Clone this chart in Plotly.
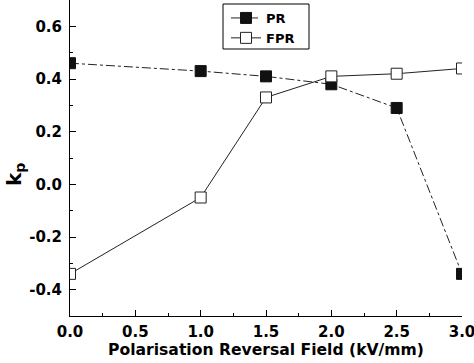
import plotly.graph_objects as go

field = [0.0, 1.0, 1.5, 2.0, 2.5, 3.0]
pr = [0.46, 0.43, 0.41, 0.38, 0.29, -0.34]
fpr = [-0.34, -0.05, 0.33, 0.41, 0.42, 0.44]

x_ticks = [0, 0.5, 1.0, 1.5, 2.0, 2.5, 3.0]
x_ticktext = ["0.0", "0.5", "1.0", "1.5", "2.0", "2.5", "3.0"]
y_ticks = [-0.4, -0.2, 0.0, 0.2, 0.4, 0.6]
y_ticktext = ["-0.4", "-0.2", "0.0", "0.2", "0.4", "0.6"]

font_family = "DejaVu Sans, Arial, sans-serif"

fig = go.Figure()
fig.add_trace(go.Scatter(
    x=field, y=pr, name="<b>PR</b>", mode="lines+markers",
    line=dict(color="#222222", width=1, dash="dashdot"),
    marker=dict(symbol="square", size=11, color="#111111",
                line=dict(color="#111111", width=1)),
))
fig.add_trace(go.Scatter(
    x=field, y=fpr, name="<b>FPR</b>", mode="lines+markers",
    line=dict(color="#222222", width=1),
    marker=dict(symbol="square", size=11, color="white",
                line=dict(color="#222222", width=1)),
))

axis_common = dict(
    showline=True, linecolor="black", linewidth=1, mirror=False,
    showgrid=False, zeroline=False, automargin=False,
    ticks="inside", ticklen=6, tickwidth=1, tickcolor="black",
    ticklabeloverflow="allow",
    tickfont=dict(family=font_family, size=15, color="black", weight="bold"),
)

fig.update_layout(
    width=474, height=363,
    margin=dict(l=70, r=12, t=0, b=47),
    paper_bgcolor="white", plot_bgcolor="white",
    font=dict(family=font_family, color="black"),
    showlegend=True,
    legend=dict(
        x=(226 - 70) / 392, y=(316 - 3) / 316, xanchor="left", yanchor="top",
        borderwidth=0, bgcolor="rgba(0,0,0,0)",
        font=dict(family=font_family, size=13, color="black"),
        tracegroupgap=0, itemwidth=30,
    ),
    shapes=[dict(
        type="rect", xref="paper", yref="paper",
        x0=(223 - 70) / 392, x1=(309 - 70) / 392,
        y0=(316 - 49) / 316, y1=(316 - 4) / 316,
        line=dict(color="black", width=1), fillcolor="rgba(0,0,0,0)",
        layer="above",
    )],
    xaxis=dict(
        range=[0, 3.0], tickvals=x_ticks, ticktext=x_ticktext,
        minor=dict(ticks="inside", ticklen=3, tickcolor="black", dtick=0.25, tick0=0),
        title=dict(text="<b>Polarisation Reversal Field (kV/mm)</b>",
                   font=dict(family=font_family, size=15.6, color="black"), standoff=1),
        ticklabelstandoff=2,
        **axis_common,
    ),
    yaxis=dict(
        range=[-0.5, 0.7], tickvals=y_ticks, ticktext=y_ticktext,
        minor=dict(ticks="inside", ticklen=3, tickcolor="black", dtick=0.1, tick0=0),
        ticklabelstandoff=4,
        **axis_common,
    ),
    annotations=[dict(
        text="<b>k<sub>p</sub></b>", xref="paper", yref="paper",
        x=-(70 - 15) / 392, y=(316 - 175) / 316, xanchor="center", yanchor="middle",
        textangle=-90, showarrow=False,
        font=dict(family=font_family, size=20, color="black"),
    )],
)

fig.write_html("out.html", config={"displayModeBar": False},
               post_script="document.body.style.margin='0';document.body.style.overflow='hidden';")
